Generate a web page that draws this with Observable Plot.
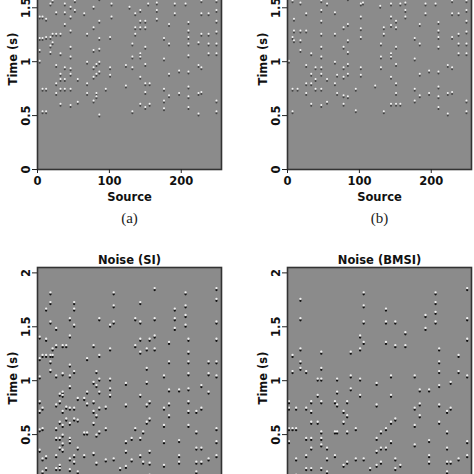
<!DOCTYPE html>
<html><head><meta charset="utf-8">
<script src="https://cdn.jsdelivr.net/npm/d3@7"></script>
<script src="https://cdn.jsdelivr.net/npm/@observablehq/plot@0.6"></script>
<style>
html,body{margin:0;padding:0;background:#fff;width:474px;height:474px;overflow:hidden}
#root{position:relative;width:474px;height:474px;overflow:hidden}
#root>div{position:absolute}
svg{background:transparent!important}
</style></head><body><div id="root"></div>
<script>
const xTicks=[0,100,200];
const yTicks=[0,0.5,1,1.5,2];
// each entry: [source, [times of the events in that trace]]
const eventsA=[[3,[1,1.1,1.21,1.41,1.59]],[7,[.53,.74,1.21,1.41,1.68,1.87]],[12,[.53,.74,1.22,1.39,1.65,1.9]],[18,[1.08,1.14,1.22,1.53,1.73,1.79,1.92]],[21,[1.17,1.25,1.56]],[26,[.7,.79,.96,1.25,1.45]],[32,[.6,.74,.83,.88,1.07,1.25,1.9]],[38,[.74,.83,.94,1.34,1.45,1.53,1.62]],[46,[.59,.74,.88,.93,1.04,1.13,1.28,1.41,1.5,1.71,1.9]],[52,[1.47,1.56,1.68,1.96]],[56,[.62,.83]],[65,[1.44,1.62,1.92]],[69,[.7,.79,.99,1.25]],[78,[.63,.85,.94,1.1,1.31,1.5,1.92]],[82,[.67,.7,.88,.97]],[86,[.5,.9,.99,1.11,1.21,1.37,1.58]],[95,[.74]],[101,[.87,.94,1.22]],[103,[1.41,1.53]],[106,[1.68,1.78,1.9,2.01]],[123,[.77,.96]],[128,[1.5,1.59,1.71,1.99]],[132,[.53,.94,1.04,1.16,1.65]],[136,[1.25,1.31,1.44,1.92]],[143,[.6,.85,1.04,1.07,1.31,1.37,1.47,1.71,1.81,1.99]],[150,[.57,.71,.79,.97,1.13,1.31,1.37]],[154,[1.53,1.68,1.92]],[156,[.6,.79]],[160,[1.92,1.96]],[166,[1.39,1.47,1.54,1.64,1.82,2.01]],[176,[.56,.63,.74,1.02,1.21]],[183,[.68,.88,1.16,1.34]],[191,[1.44,1.53,1.64,1.92]],[197,[.7,.91,1.92,1.99]],[206,[1.53,1.59,1.65,1.71,1.78,1.99]],[210,[.57,.67,.76,.9,1.05,1.16,1.22,1.28,1.36]],[224,[.51,.7,.96,1.17]],[228,[.71,.94,1.25,1.44,1.56,1.71,1.9,1.99]],[233,[1.93]],[238,[1.07,1.16,1.25,1.44]],[249,[.53,.63,1.07,1.16,1.27,1.37,1.47,1.56,1.71,1.84,1.99]]];
const eventsB=[[2,[1]],[7,[.53,.74,1.22,1.56]],[9,[1.19,1.28,1.39,1.65,1.87]],[14,[.74]],[18,[1.1,1.19,1.28,1.54,1.73]],[26,[.7,.79,.96,1.28,1.44]],[33,[.6,.79,.88,1.07]],[39,[.74,.83,.94,1.62]],[47,[.59,.74,.88,.94,1.04,1.13,1.25,1.37,1.47,1.56,1.71,1.9]],[55,[.62,.83,1.53]],[66,[.79,.99,1.25,1.45,1.64,1.92]],[69,[.7,.87]],[78,[.6,.68,.85,.94,1.13,1.31,1.92,1.99]],[84,[.67,.88,.97,1.08,1.19,1.34,1.58]],[95,[.54,.74]],[102,[.87,.94,1.22,1.3,1.41,1.53]],[105,[1.54,1.68,1.78,1.92,2.01]],[122,[.77]],[129,[1.51,1.59,1.71,1.99]],[130,[.94,1.04,1.16]],[134,[.53,1.25,1.31,1.65]],[137,[1.62]],[144,[.6,.85,1.04,1.07,1.33,1.41,1.53,1.73,1.81]],[151,[.6,.7,.79,.97,1.13,1.31,1.37]],[157,[.6,1.53,1.71,1.92]],[164,[1.41,1.47,1.54,1.64,1.82]],[177,[.63,.74,1.02,1.21]],[184,[.68,.88,1.16,1.34]],[192,[1.44,1.53,1.64]],[197,[.7,.91,1.92]],[206,[1.53,1.59,1.65,1.71,1.78,1.99]],[210,[.57,.67,.76,.9,1.13,1.22,1.28,1.36]],[223,[.51,.7,.96]],[229,[.71,.94,1.22,1.44,1.56,1.71,1.9,1.99]],[238,[1.07,1.16,1.25,1.44]],[249,[.53,.63,1.07,1.16,1.27,1.37,1.47,1.56,1.71,1.84,1.99]]];
const eventsC=[[3,[.06,.35,.54,.71,.8,1.03,1.2,1.4]],[7,[.06,.15,.27,.55,.74,1.23]],[12,[.09,.18,.29,1.23,1.38,1.66]],[18,[1.09,1.17,1.23,1.54,1.72,1.81]],[21,[1.23,1.29]],[26,[.01,.18,.3,.46,.55,.77,1.04,1.32,1.48]],[31,[.18,.21,.37,.46,.61,.8,.87]],[35,[.35,.41,.49,.58,.71,.86,.89,1.06,1.32]],[40,[.64,.75,1.32]],[45,[.06,.17,.27,.43,.46,.6,.74,.94,1.04,1.14,1.41,1.57]],[51,[.24,.3,.64,.74,1.08,1.51,1.66,1.72]],[56,[.15,.37,.63,.83]],[65,[.3,.51,.83]],[69,[.51,.78,.89,1.2]],[78,[.32,.6,.71,.8,.98,1.32]],[82,[.06,.23,.49,.67,.95,1.08]],[86,[.52,.74,.89,1.01,1.23,1.57]],[95,[.06,.26,.55,.75]],[101,[.86,.92,1.01,1.29,1.51]],[106,[.09,.27,1.54,1.69,1.81]],[115,[.18]],[123,[.2,.34,.43,.77,.97]],[131,[.26,.46]],[136,[.06,.55,1.32,1.57]],[143,[.3,.46,.86,1.26,1.38,1.54,1.72]],[147,[.03,.24,.52]],[152,[.61,.77,.98,1.11,1.29]],[156,[.01,.12,.23,.34,.64,.8,1.38]],[163,[1.29,1.41,1.57,1.85]],[176,[.21,.43,.58,.74,1.04]],[183,[.67,.78,.91,1.17,1.35]],[191,[1.48,1.57,1.66]],[197,[.24,.3,.44,.91]],[206,[.03,1.51,1.6,1.69,1.81]],[210,[.58,.71,.8,.92,1.06,1.17,1.26,1.38]],[221,[.07,.15,.24,.37,.52,.71]],[228,[.24,.37,.74,.95]],[238,[.03,.27,.89,1.06,1.17]],[249,[.06,.3,.43,.55,1.04,1.17,1.38,1.54,1.75,1.85]]];
const eventsD=[[2,[.43,.55,.74,.8]],[7,[.07,.55,1.08,1.23]],[12,[.12,.27,.55,.74]],[18,[1.11,1.17,1.29,1.57,1.75]],[26,[.03,.18,.3,.46,.74,1.08]],[33,[.18,.37,.46,.61,.71,.8]],[42,[.61,.86,1.01]],[47,[.18,.4,.46,.52,.8,1.01,1.11,1.26]],[55,[.15,.27,.37]],[66,[.3,.52,.8]],[69,[.52,.77,.89,1.01]],[78,[.04,.21,.61,.71]],[83,[.06,.24,.52,.67,.8]],[88,[.92,1.04,1.26]],[95,[.09,.27,.55]],[101,[.86,1.01,1.29,1.41]],[106,[.07,.27,1.35,1.54,1.69,1.81]],[115,[.18]],[124,[.21,.34,.46,.77,.97]],[130,[.24,.37,.52]],[137,[.06,.37,.55,1.35,1.54,1.66]],[144,[.43,.61,.86,1.04]],[150,[.03,.18,.27,.64,1.32,1.54]],[157,[.03,.21]],[164,[1.32,1.44]],[177,[.4,.58,.74,1.04]],[184,[.67,.78,.91]],[192,[1.48,1.6]],[197,[.24,.3,.44,.91]],[206,[.03,1.54,1.63,1.72,1.81]],[211,[.61,.77,.95,1.08,1.17,1.29]],[222,[.07,.15,.24,.37,.52,.71]],[227,[.24,.74,.98]],[238,[.03,.27,1.08,1.23]],[250,[.06,.3,.43,1.04,1.38,1.57,1.85]]];

const font='"DejaVu Sans",sans-serif';
const flat=ev=>ev.flatMap(([source,times])=>times.map(time=>({source,time})));

function panel({left,top,events,title,caption,light,dark,r,timeLabel}){
  const data=flat(events);
  const marks=[
    Plot.frame({fill:"#8b8b8b"}),
    Plot.dot(data,{x:"source",y:"time",r,fill:dark,dy:1,clip:true}),
    Plot.dot(data,{x:"source",y:"time",r,fill:light,dy:-1,clip:true}),
    Plot.frame({stroke:"#333",strokeWidth:1.6}),
    Plot.axisX({ticks:xTicks,tickSize:4,tickPadding:3,tickFormat:d=>String(d),label:"Source",labelAnchor:"center",labelArrow:"none",labelOffset:31,stroke:"#222"}),
    Plot.axisY({ticks:yTicks,tickSize:5,tickPadding:3,tickRotate:-90,tickFormat:d=>String(d),label:"Time (s)",labelAnchor:"center",labelArrow:"none",labelOffset:timeLabel,stroke:"#222"})
  ];
  if(title) marks.push(Plot.text([title],{frameAnchor:"top",dy:-12,fontSize:11.5,fontWeight:"bold",fontFamily:font,fill:"#111"}));
  if(caption) marks.push(Plot.text([caption],{frameAnchor:"bottom",dy:53,fontSize:15,fontWeight:"normal",fontFamily:'"Liberation Serif",serif',fill:"#222"}));
  const svg=Plot.plot({
    width:224,height:321,
    marginLeft:37,marginRight:3,marginTop:30,marginBottom:70,
    x:{domain:[0,256]},
    y:{domain:[0,2.05]},
    style:{fontFamily:font,fontSize:"11.5px",fontWeight:"bold",color:"#111",background:"transparent",overflow:"visible"},
    marks
  });
  const d=document.createElement("div");
  d.style.left=left+"px";d.style.top=top+"px";
  d.appendChild(svg);
  document.getElementById("root").appendChild(d);
}
panel({left:0,top:-82,events:eventsA,caption:"(a)",light:"#f4f4f4",dark:"#454545",r:1,timeLabel:29});
panel({left:250,top:-82,events:eventsB,caption:"(b)",light:"#f4f4f4",dark:"#454545",r:1,timeLabel:29});
panel({left:0,top:237,events:eventsC,title:"Noise (SI)",light:"#f0f0f0",dark:"#111",r:1.15,timeLabel:29});
panel({left:250,top:237,events:eventsD,title:"Noise (BMSI)",light:"#f0f0f0",dark:"#111",r:1.15,timeLabel:29});
</script></body></html>
